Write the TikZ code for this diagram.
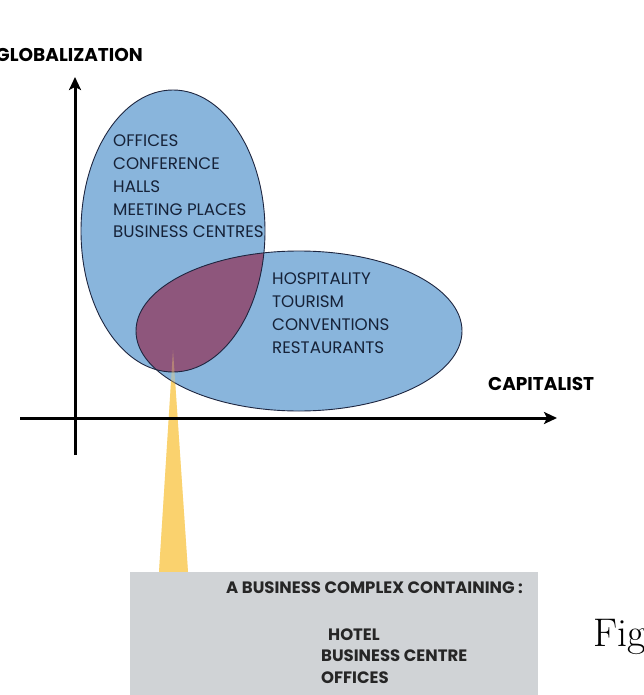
\documentclass[tikz,border=0pt]{standalone}
\usepackage{fontspec}
\setmainfont{Poppins}
\usetikzlibrary{arrows.meta}
\definecolor{ellblue}{RGB}{137,181,220}
\definecolor{ellpurple}{RGB}{142,86,124}
\definecolor{elline}{RGB}{30,38,64}
\definecolor{beam}{RGB}{250,210,110}
\definecolor{boxgray}{RGB}{208,211,214}
\definecolor{navytext}{RGB}{22,34,56}
\begin{document}
\begin{tikzpicture}[x=1pt,y=-1pt,
  axis/.style={line width=3pt,-{Stealth[length=13pt,width=12pt,inset=3pt]}},
  axislabel/.style={font=\bfseries\fontsize{18.5}{20}\selectfont,inner sep=0pt,anchor=base west},
  elltext/.style={font=\fontsize{16.7}{20}\selectfont,text=navytext,inner sep=0pt,anchor=base west},
  boxtext/.style={font=\bfseries\fontsize{16.5}{18}\selectfont,inner sep=0pt,text=black!85,anchor=base west}]
\useasboundingbox (0,0) rectangle (643,695);
% beam (opaque, under ellipses)
\fill[beam] (173,350) -- (159,572) -- (188,572) -- cycle;
% ellipses
\fill[ellblue] (299,331) ellipse [x radius=163, y radius=80];
\fill[ellblue] (173,231) ellipse [x radius=92, y radius=141];
\begin{scope}
  \clip (173,231) ellipse [x radius=92, y radius=141];
  \fill[ellpurple] (299,331) ellipse [x radius=163, y radius=80];
\end{scope}
\draw[elline,line width=0.9pt] (299,331) ellipse [x radius=163, y radius=80];
\draw[elline,line width=0.9pt] (173,231) ellipse [x radius=92, y radius=141];
% beam (faint, over ellipses)
\fill[beam,opacity=0.35] (173,350) -- (159,572) -- (188,572) -- cycle;
% axes
\coordinate (yb) at (75,455);
\coordinate (yt) at (75,77);
\coordinate (xl) at (20,418);
\coordinate (xr) at (557,418);
\draw[axis] (yb) -- (yt);
\draw[axis] (xl) -- (xr);
\node[axislabel,anchor=base east] (glob) at (143,62) {GLOBALIZATION};
\node[axislabel] (cap) at (488,390) {CAPITALIST};
% ellipse texts
\node[elltext] (t1a) at (113,147) {OFFICES};
\node[elltext] (t1b) at (113,170) {CONFERENCE};
\node[elltext] (t1c) at (113,192) {HALLS};
\node[elltext] (t1d) at (113,215) {MEETING PLACES};
\node[elltext] (t1e) at (113,237) {BUSINESS CENTRES};
\node[elltext] (t2a) at (272,284) {HOSPITALITY};
\node[elltext] (t2b) at (272,307) {TOURISM};
\node[elltext] (t2c) at (272,330) {CONVENTIONS};
\node[elltext] (t2d) at (272,353) {RESTAURANTS};
% box
\fill[boxgray] (130,572) rectangle (538,700);
\node[boxtext,anchor=base east] (b0) at (523,593) {A BUSINESS COMPLEX CONTAINING :};
\node[boxtext] (b1) at (328,640) {HOTEL};
\node[boxtext] (b2) at (321,661) {BUSINESS CENTRE};
\node[boxtext] (b3) at (321,683) {OFFICES};
\node[anchor=base west,inner sep=0pt,font=\fontspec{Latin Modern Roman}\fontsize{40}{44}\selectfont] (fig) at (593,646) {Fig};
\end{tikzpicture}
\end{document}
